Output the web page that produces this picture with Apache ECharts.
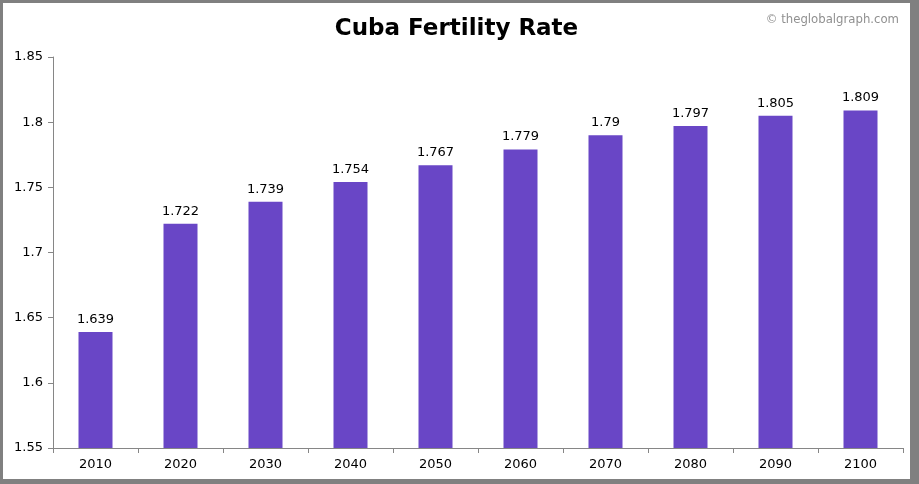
<!DOCTYPE html>
<html><head><meta charset="utf-8">
<script src="https://cdn.jsdelivr.net/npm/echarts@6/dist/echarts.min.js"></script>
<style>
html,body{margin:0;padding:0;background:#808080;width:919px;height:484px;overflow:hidden}
#c{position:absolute;left:3px;top:3px;width:907px;height:476px;background:#fff}
</style></head>
<body><div id="c"></div>
<script>
const categories = ['2010','2020','2030','2040','2050','2060','2070','2080','2090','2100'];
const fertility = [1.639,1.722,1.739,1.754,1.767,1.779,1.79,1.797,1.805,1.809];
const chart = echarts.init(document.getElementById('c'), null, {renderer:'canvas'});
chart.setOption({
  animation:false,
  backgroundColor:'#fff',
  title:[{text:'Cuba Fertility Rate',left:'center',top:10,textStyle:{fontFamily:'DejaVu Sans',fontWeight:'bold',fontSize:23,color:'#000'}},
         {text:'© theglobalgraph.com',right:6,top:5,textStyle:{fontFamily:'DejaVu Sans Condensed',fontWeight:'normal',fontSize:13,color:'#909090'}}],
  grid:{left:50,right:7,top:54,bottom:31},
  xAxis:{type:'category',data:categories,
    axisLine:{lineStyle:{color:'#868686'}},
    axisTick:{show:true,length:5,lineStyle:{color:'#868686'}},
    axisLabel:{color:'#000',fontFamily:'DejaVu Sans',fontSize:13,margin:10}},
  yAxis:{type:'value',min:1.55,max:1.85,interval:0.05,
    axisLine:{show:true,lineStyle:{color:'#868686'}},
    axisTick:{show:true,length:5,lineStyle:{color:'#868686'}},
    splitLine:{show:false},
    axisLabel:{color:'#000',fontFamily:'DejaVu Sans',fontSize:13,margin:10}},
  series:[{type:'bar',data:fertility,barWidth:'40%',itemStyle:{color:'#6946c6'},
    label:{show:true,position:'top',distance:6,color:'#000',fontFamily:'DejaVu Sans',fontSize:13}}]
});
</script></body></html>
